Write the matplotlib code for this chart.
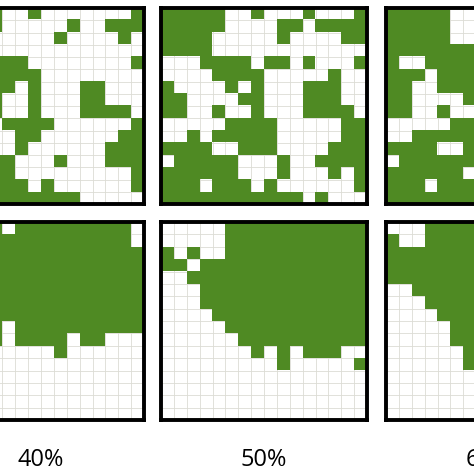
import numpy as np
import matplotlib
matplotlib.use("Agg")
import matplotlib.pyplot as plt
from matplotlib.colors import ListedColormap

labels = ["40%", "50%", "60%"]

top_40 = [
"0000100100000001",
"0110100000100111",
"0000000001000010",
"0000000000000000",
"1111111000000001",
"1111111100000000",
"0111110100011000",
"0011100100011000",
"1101100100011110",
"0000011110000001",
"1100001100000011",
"0110001000000111",
"0011110001000111",
"0001110000000001",
"1111111010000001",
"1111111111100000",
]
bot_40 = [
"0011101111111110",
"0111111111111110",
"1111111111111111",
"1111111111111111",
"1111111111111111",
"1111111111111111",
"1111111111111111",
"1111111111111111",
"0111101111111111",
"0011101111011000",
"0000000001000000",
"0000000000000000",
"0000000000000000",
"0000000000000000",
"0000000000000000",
"0000000000000000",
]
top_50 = [
"1111100100010001",
"1111100001101111",
"1111000001000011",
"1111000000000000",
"0001111011010001",
"0000111100000100",
"1000010100011100",
"1100001100011100",
"1100100100011110",
"0000011110000011",
"0010111110000011",
"1111001110000111",
"0111110001001111",
"1111110001000101",
"1110111010000001",
"1111111111101000",
]
bot_50 = [
"0000011111111111",
"0000011111111111",
"1010011111111111",
"1101111111111111",
"0011111111111111",
"0001111111111111",
"0001111111111111",
"0000111111111111",
"0000011111111111",
"0000001111111111",
"0000000101011100",
"0000000001000001",
"0000000000000000",
"0000000000000000",
"0000000000000000",
"0000000000000000",
]
top_60 = [
"1111100111111011",
"1111100111111111",
"1111100111011111",
"1111111111111111",
"1001111111111111",
"1110111111110111",
"1100111111111111",
"1100001111111101",
"1100100111111111",
"0000011111101111",
"0011111111111111",
"1111001111111110",
"0111111111011111",
"1111110111111111",
"1110111111111111",
"1111111111111111",
]
bot_60 = [
"0001111111111111",
"1001111111111111",
"1111111111111111",
"1111111111111111",
"1111111111111111",
"0011111111111111",
"0001111111111111",
"0000111111111111",
"0000011111111111",
"0000011111111111",
"0000001111111111",
"0000001111111111",
"0000000111111111",
"0000000011111111",
"0000000001111111",
"0000000000111111",
]

grids = [[top_40, top_50, top_60], [bot_40, bot_50, bot_60]]
green = "#4f8a23"
cmap = ListedColormap([green])

W = H = 474
fig = plt.figure(figsize=(4.74, 4.74), dpi=100)
xs = [-62, 161, 386]
cw = 206
rows_y = [(8, 204), (222, 420)]

for r in range(2):
    for c in range(3):
        y0, y1 = rows_y[r]
        ax = fig.add_axes([xs[c] / W, 1 - y1 / H, cw / W, (y1 - y0) / H])
        arr = np.array([[int(ch) for ch in row] for row in grids[r][c]])
        for k in range(1, 16):
            ax.axvline(k, color="#dcdcd4", lw=0.6, zorder=1)
            ax.axhline(k, color="#dcdcd4", lw=0.6, zorder=1)
        ax.imshow(np.ma.masked_equal(arr, 0), cmap=cmap, vmin=0, vmax=1,
                  aspect="auto", interpolation="nearest",
                  extent=(0, 16, 16, 0), zorder=2)
        ax.set_xticks([]); ax.set_yticks([])
        for s in ax.spines.values():
            s.set_linewidth(2.8); s.set_color("black")
        ax.set_xlim(0, 16); ax.set_ylim(16, 0)

for c in range(3):
    fig.text((xs[c] + cw / 2) / W, 1 - 460 / H, labels[c], ha="center",
             va="center", fontsize=17, family="Open Sans")

fig.savefig("out.png", dpi=100)
